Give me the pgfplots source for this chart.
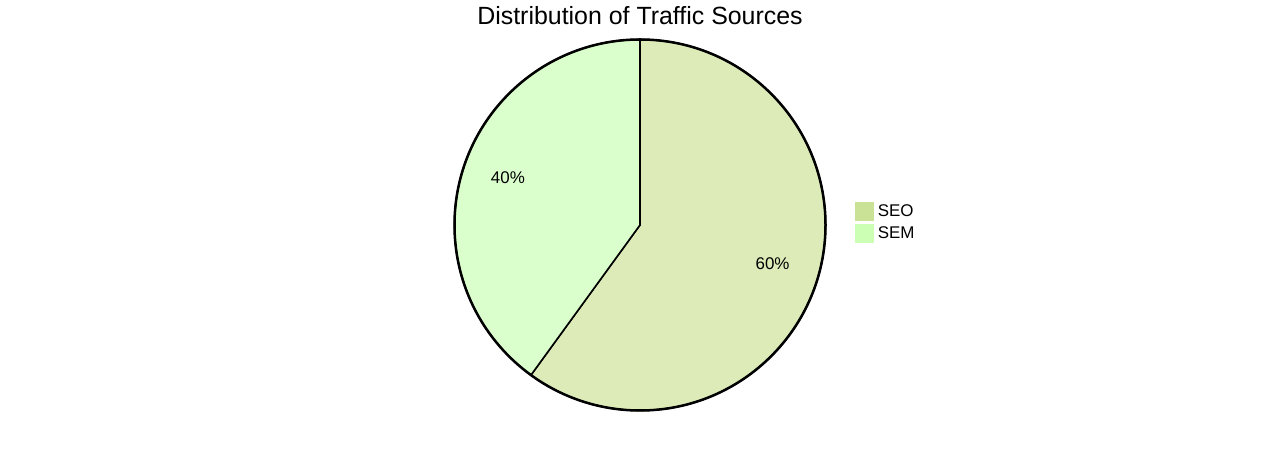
\documentclass[border=0pt]{standalone}
\usepackage{pgfplots}
\usepackage{pgfplotstable}
\pgfplotsset{compat=1.18}
\usetikzlibrary{calc}
\usepackage{fontspec}
\setmainfont{Liberation Sans}

\definecolor{seoslice}{RGB}{220,235,184}
\definecolor{semslice}{RGB}{219,255,204}
\definecolor{seokey}{RGB}{201,226,150}
\definecolor{semkey}{RGB}{204,255,179}

\pgfplotstableread{
label value
SEO 60
SEM 40
}\pietable

\begin{document}
\begin{tikzpicture}
% slice sizes -> angles, clockwise from 12 o'clock
\pgfplotstablegetelem{0}{value}\of\pietable \let\vSEO\pgfplotsretval
\pgfplotstablegetelem{1}{value}\of\pietable \let\vSEM\pgfplotsretval
\pgfmathsetmacro\aStart{90}
\pgfmathsetmacro\aMid{90-3.6*\vSEO}
\pgfmathsetmacro\aEnd{\aMid-3.6*\vSEM}
\pgfmathsetmacro\lSEO{90-1.8*\vSEO}
\pgfmathsetmacro\lSEM{\aMid-1.8*\vSEM}
\def\R{185.5bp}
\begin{axis}[
  x=1bp, y=1bp,
  xmin=0, xmax=1280, ymin=0, ymax=450,
  scale only axis, hide axis,
  clip=false,
  legend style={at={(axis cs:855,248)}, anchor=north west,
    draw=none, fill=none, inner sep=0pt, outer sep=0pt,
    font=\fontsize{17}{20}\selectfont,
    row sep=4bp, cells={anchor=west},
    /tikz/every odd column/.style={column sep=2.5bp}},
  legend image code/.code={\fill[#1] (0bp,-9bp) rectangle (18bp,9bp);},
]
\addlegendimage{seokey}
\addlegendentry{SEO}
\addlegendimage{semkey}
\addlegendentry{SEM}

% canvas: whole 1280x450 area
\path (rel axis cs:0,0) rectangle (rel axis cs:1,1);

\filldraw[fill=seoslice, draw=black, line width=1.6bp]
  (axis cs:640,225) -- ++(\aStart:\R) arc[start angle=\aStart, end angle=\aMid, radius=\R] -- cycle;
\filldraw[fill=semslice, draw=black, line width=1.6bp]
  (axis cs:640,225) -- ++(\aMid:\R) arc[start angle=\aMid, end angle=\aEnd, radius=\R] -- cycle;
\draw[black, line width=2.5bp] (axis cs:640,225) circle[radius=\R];

\node[font=\fontsize{17}{20}\selectfont] at ($(axis cs:642,229)+(\lSEO:0.74*\R)$) {\vSEO\%};
\node[font=\fontsize{17}{20}\selectfont] at ($(axis cs:642,229)+(\lSEM:0.76*\R)$) {\vSEM\%};

\node[font=\fontsize{25}{29}\selectfont] at (axis cs:640,434) {Distribution of Traffic Sources};
\end{axis}
\end{tikzpicture}
\end{document}
